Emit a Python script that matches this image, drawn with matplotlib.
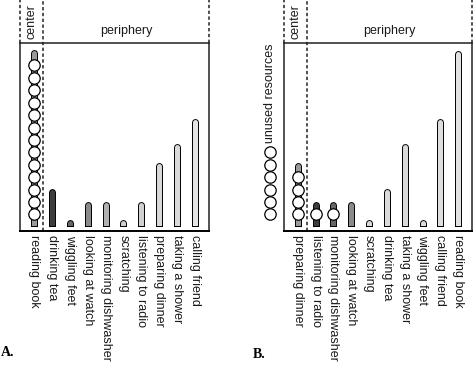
import matplotlib
matplotlib.use("Agg")
import matplotlib.pyplot as plt
from matplotlib.patches import Rectangle

plt.rcParams['font.family'] = ['Liberation Sans', 'DejaVu Sans']

# panel A: bar heights in "circle" units, circles = resources stacked on a task
labels_a = ['reading book', 'drinking tea', 'wiggling feet', 'looking at watch',
            'monitoring dishwasher', 'scratching', 'listening to radio',
            'preparing dinner', 'taking a shower', 'calling friend']
heights_a = [14.3, 3.1, 0.55, 2.0, 2.0, 0.55, 2.0, 5.2, 6.7, 8.7]
circles_a = [13, 0, 0, 0, 0, 0, 0, 0, 0, 0]

# panel B
labels_b = ['preparing dinner', 'listening to radio', 'monitoring dishwasher',
            'looking at watch', 'scratching', 'drinking tea', 'taking a shower',
            'wiggling feet', 'calling friend', 'reading book']
heights_b = [5.2, 2.0, 2.0, 2.0, 0.55, 3.1, 6.7, 0.55, 8.7, 14.2]
circles_b = [4, 1, 1, 0, 0, 0, 0, 0, 0, 0]
unused_b = 6

colors_a = ['#9a9a9a', '#3c3c3c', '#666666', '#8a8a8a', '#b0b0b0',
            '#d0d0d0', '#d0d0d0', '#d8d8d8', '#dadada', '#e6e6e6']
colors_b = ['#9a9a9a', '#3c3c3c', '#666666', '#8a8a8a', '#dadada',
            '#dadada', '#dadada', '#dadada', '#dedede', '#e2e2e2']

W, H = 474, 373
PX = 12.4            # pixels per unit
YLO, YHI = -0.32, 18.28
YHEAD = 14.81
XLO, XHI = -0.78, 9.78
TXT = '#1a1a1a'


def round_bar(ax, x, h, color):
    r = 3.5 / PX
    clip_out = Rectangle((x - 1, 0), 2, 50, transform=ax.transData)
    clip_in = Rectangle((x - 1, 0.08), 2, 50, transform=ax.transData)
    l1, = ax.plot([x, x], [-1, h - r], color='black', lw=5.0, solid_capstyle='round')
    l2, = ax.plot([x, x], [-1, h - r], color=color, lw=3.6, solid_capstyle='round')
    l1.set_clip_path(clip_out)
    l2.set_clip_path(clip_in)


def panel(ax, labels, heights, circles, colors):
    ax.set_xlim(XLO, XHI)
    ax.set_ylim(YLO, YHI)
    for s in ['top', 'left', 'right']:
        ax.spines[s].set_visible(False)
    ax.spines['bottom'].set_linewidth(1.4)
    ax.set_yticks([])
    ax.set_xticks(range(len(labels)))
    ax.set_xticklabels(labels, rotation=-90, fontsize=9, color=TXT)
    ax.tick_params(axis='x', length=0, pad=3)

    for i, (h, c) in enumerate(zip(heights, colors)):
        round_bar(ax, i, h, c)
        if circles[i]:
            ys = [k + 1 for k in range(circles[i])]
            ax.plot([i] * len(ys), ys, 'o', ms=8.2, mfc='white', mec='black',
                    mew=0.9, zorder=5)

    # box edges: solid below header, dashed above
    dash = (0, (2.2, 1.6))
    for xe in (XLO, XHI):
        ax.plot([xe, xe], [YLO, YHEAD], color='#222222', lw=1.1, clip_on=False)
        ax.plot([xe, xe], [YHEAD, YHI], color='#222222', lw=1.1, ls=dash, clip_on=False)
    ax.plot([0.5, 0.5], [YLO, YHI], color='#222222', lw=1.1, ls=dash, clip_on=False)
    ax.plot([XLO, XHI], [YHEAD, YHEAD], color='#222222', lw=1.1, clip_on=False)

    ax.text((XLO + 0.5) / 2, 16.55, 'center', rotation=90, ha='center',
            va='center', fontsize=9, color=TXT)
    ax.text((0.5 + XHI) / 2, 15.78, 'periphery', ha='center', va='center',
            fontsize=9, color=TXT)


fig = plt.figure(figsize=(W / 100, H / 100), dpi=100)
ax_a = fig.add_axes([20 / W, 1 - 230.7 / H, 189 / W, 230.7 / H])
ax_b = fig.add_axes([284 / W, 1 - 230.7 / H, 188 / W, 230.7 / H])

panel(ax_a, labels_a, heights_a, circles_a, colors_a)
panel(ax_b, labels_b, heights_b, circles_b, colors_b)

# unused resources, left of panel B
ax_b.plot([-1.57] * unused_b, [k + 1 for k in range(unused_b)], 'o', ms=8.2,
          mfc='white', mec='black', mew=0.9, clip_on=False, zorder=5)
ax_b.text(-1.57, 6.75, 'unused resources', rotation=90, ha='center', va='bottom',
          fontsize=9, color=TXT)

fig.text(0.5 / W, 1 - 353 / H, 'A.', family='Liberation Serif', weight='bold',
         fontsize=10, ha='left', va='center')
fig.text(253 / W, 1 - 354 / H, 'B.', family='Liberation Serif', weight='bold',
         fontsize=10, ha='left', va='center')

fig.savefig('out.png', dpi=100)
